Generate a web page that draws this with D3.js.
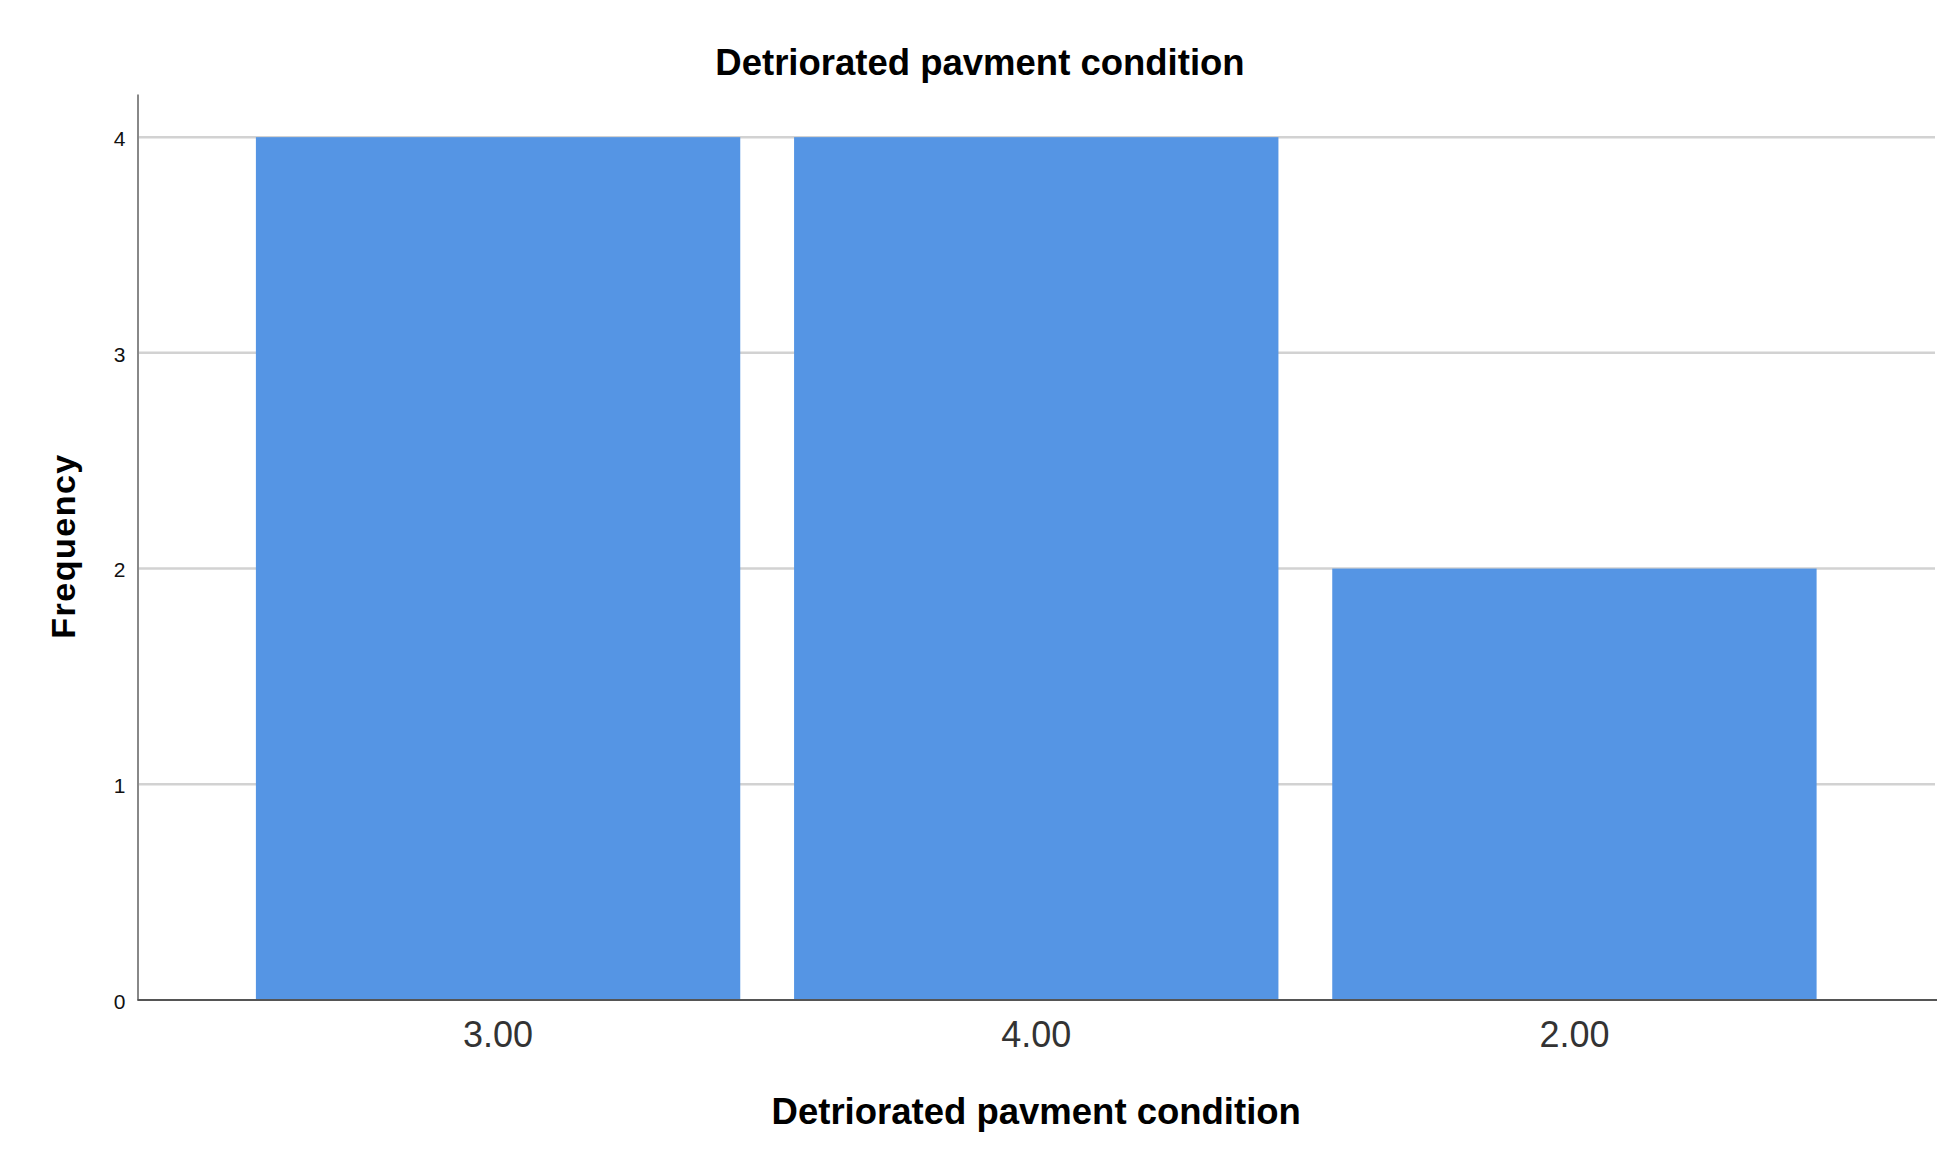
<!DOCTYPE html>
<html>
<head>
<meta charset="utf-8">
<script src="https://cdn.jsdelivr.net/npm/d3@7"></script>
<style>
  body { margin: 0; background: #fff; }
  text { font-family: "Liberation Sans", Arial, sans-serif; }
</style>
</head>
<body>
<script>
// categories and counts, in the order shown
var categories = ["3.00", "4.00", "2.00"];
var counts = [4, 4, 2];
var yTicks = [0, 1, 2, 3, 4];

var chartTitle = "Detriorated pavment condition";
var xTitle = "Detriorated pavment condition";
var yTitle = "Frequency";

// plot area (note: "top" is reserved on window, so use plotTop)
var width = 1953, height = 1167;
var plotLeft = 137.5, plotRight = 1935, plotBottom = 1000, plotTop = 94;

var svg = d3.select("body")
    .append("svg")
    .attr("width", width)
    .attr("height", height);

var xScale = d3.scaleBand()
    .domain(categories)
    .range([plotLeft, plotRight])
    .paddingInner(0.1)
    .paddingOuter(0.22);

var yScale = d3.scaleLinear()
    .domain([0, 4.2])
    .range([plotBottom, plotTop]);

// grid lines
svg.append("g")
    .selectAll("line")
    .data(yTicks.filter(function(d) { return d > 0; }))
  .enter().append("line")
    .attr("x1", plotLeft)
    .attr("x2", plotRight)
    .attr("y1", function(d) { return yScale(d); })
    .attr("y2", function(d) { return yScale(d); })
    .attr("stroke", "#d2d2d2")
    .attr("stroke-width", 2.5);

// bars
svg.append("g")
    .selectAll("rect")
    .data(counts)
  .enter().append("rect")
    .attr("x", function(d, i) { return xScale(categories[i]); })
    .attr("width", xScale.bandwidth())
    .attr("y", function(d) { return yScale(d); })
    .attr("height", function(d) { return yScale(0) - yScale(d); })
    .attr("fill", "#5595e4");

// y axis
var yAxis = d3.axisLeft(yScale)
    .tickValues(yTicks)
    .tickSize(0)
    .tickPadding(12)
    .tickFormat(d3.format("d"));

var yg = svg.append("g")
    .attr("transform", "translate(" + plotLeft + ",0)")
    .call(yAxis);
yg.select(".domain").attr("stroke", "#888").attr("stroke-width", 2);
yg.selectAll("text")
    .style("font-size", "21px")
    .attr("fill", "#111")
    .attr("dy", "0.4em");

// x axis
var xAxis = d3.axisBottom(xScale)
    .tickSize(0)
    .tickPadding(20);

var xg = svg.append("g")
    .attr("transform", "translate(0," + plotBottom + ")")
    .call(xAxis);
xg.select(".domain").remove();
xg.selectAll("text")
    .style("font-size", "36px")
    .attr("fill", "#333")
    .attr("dy", "0.75em");

svg.append("line")
    .attr("x1", plotLeft)
    .attr("x2", plotRight + 2)
    .attr("y1", plotBottom)
    .attr("y2", plotBottom)
    .attr("stroke", "#555")
    .attr("stroke-width", 2);

// titles
svg.append("text")
    .attr("x", 980)
    .attr("y", 75)
    .attr("text-anchor", "middle")
    .style("font-size", "36.5px")
    .style("font-weight", "bold")
    .text(chartTitle);

svg.append("text")
    .attr("x", (plotLeft + plotRight) / 2)
    .attr("y", 1124)
    .attr("text-anchor", "middle")
    .style("font-size", "36.5px")
    .style("font-weight", "bold")
    .text(xTitle);

svg.append("text")
    .attr("transform", "translate(75,546) rotate(-90)")
    .attr("text-anchor", "middle")
    .style("font-size", "34px")
    .style("font-weight", "bold")
    .style("letter-spacing", "1.5px")
    .text(yTitle);
</script>
</body>
</html>
